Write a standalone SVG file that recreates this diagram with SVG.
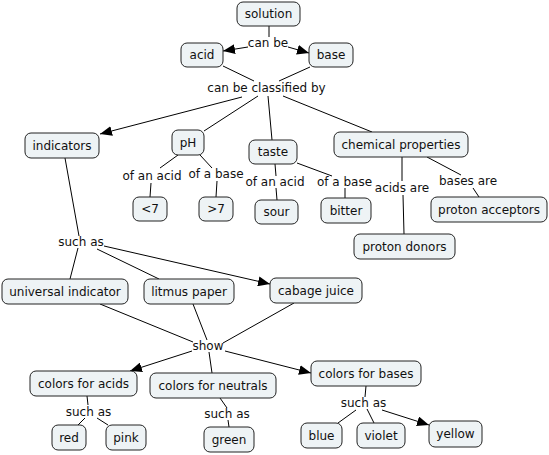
<svg xmlns="http://www.w3.org/2000/svg" width="549" height="455" viewBox="0 0 549 455">
<style>
.n rect{fill:#eef3f5;stroke:#222;stroke-width:1;}
text{font-family:"DejaVu Sans",Verdana,"Liberation Sans",sans-serif;font-size:12px;fill:#111;text-anchor:middle;}
#connectors line{stroke:#000;stroke-width:1;fill:none;}
#connectors line.a{marker-end:url(#arrow);}
</style>
<defs>
<marker id="arrow" markerUnits="userSpaceOnUse" markerWidth="13" markerHeight="10" refX="12" refY="5" orient="auto">
<path d="M0,0 L12,5 L0,10 z" fill="#000"/>
</marker>
</defs>
<rect width="549" height="455" fill="#fff"/>
<g id="connectors">
<line x1="269" y1="26" x2="269" y2="37"/>
<line class="a" x1="248" y1="47" x2="223" y2="51"/>
<line class="a" x1="288" y1="47" x2="309" y2="53"/>
<line x1="223" y1="66" x2="254" y2="81"/>
<line x1="310" y1="67" x2="279" y2="81"/>
<line class="a" x1="242" y1="97" x2="100" y2="134"/>
<line x1="258" y1="96" x2="204" y2="131"/>
<line x1="268" y1="96" x2="272" y2="140"/>
<line x1="283" y1="96" x2="372" y2="132"/>
<line x1="178" y1="155" x2="160" y2="168"/>
<line x1="151" y1="183" x2="150" y2="197"/>
<line x1="200" y1="155" x2="212" y2="168"/>
<line x1="217" y1="181" x2="216" y2="197"/>
<line x1="275" y1="164" x2="276" y2="176"/>
<line x1="276" y1="188" x2="277" y2="200"/>
<line x1="297" y1="163" x2="332" y2="176"/>
<line x1="345" y1="188" x2="345" y2="198"/>
<line x1="402" y1="157" x2="402" y2="181"/>
<line x1="403" y1="195" x2="404" y2="234"/>
<line x1="427" y1="157" x2="461" y2="175"/>
<line x1="473" y1="188" x2="479" y2="197"/>
<line x1="65" y1="158" x2="79" y2="236"/>
<line x1="78" y1="248" x2="70" y2="279"/>
<line x1="97" y1="249" x2="159" y2="279"/>
<line class="a" x1="104" y1="246" x2="270" y2="284"/>
<line x1="100" y1="304" x2="193" y2="342"/>
<line x1="193" y1="304" x2="207" y2="340"/>
<line x1="294" y1="303" x2="223" y2="343"/>
<line class="a" x1="192" y1="351" x2="130" y2="371"/>
<line x1="209" y1="352" x2="212" y2="373"/>
<line class="a" x1="225" y1="351" x2="311" y2="373"/>
<line x1="87" y1="396" x2="88" y2="405"/>
<line x1="85" y1="418" x2="78" y2="425"/>
<line x1="97" y1="418" x2="108" y2="425"/>
<line x1="220" y1="398" x2="227" y2="408"/>
<line x1="228" y1="420" x2="229" y2="427"/>
<line x1="366" y1="386" x2="365" y2="397"/>
<line x1="356" y1="410" x2="338" y2="423"/>
<line x1="367" y1="409" x2="374" y2="423"/>
<line class="a" x1="382" y1="410" x2="429" y2="425"/>
</g>
<g id="labels">
<text x="268" y="47">can be</text>
<text x="266.5" y="92">can be classified by</text>
<text x="152" y="180">of an acid</text>
<text x="216" y="178">of a base</text>
<text x="275" y="186">of an acid</text>
<text x="344.5" y="186">of a base</text>
<text x="402" y="192">acids are</text>
<text x="468" y="185">bases are</text>
<text x="81" y="246">such as</text>
<text x="208" y="350">show</text>
<text x="88.5" y="416">such as</text>
<text x="227" y="418">such as</text>
<text x="363.5" y="407">such as</text>
</g>
<g id="solution" class="n"><rect x="237" y="2" width="63" height="24" rx="6"/><text x="268.5" y="18">solution</text></g>
<g id="acid" class="n"><rect x="181" y="43" width="42" height="24" rx="6"/><text x="202" y="59">acid</text></g>
<g id="base" class="n"><rect x="309" y="43" width="44" height="24" rx="6"/><text x="331" y="59">base</text></g>
<g id="indicators" class="n"><rect x="25" y="133" width="74" height="25" rx="6"/><text x="62" y="150">indicators</text></g>
<g id="pH" class="n"><rect x="172" y="130" width="32" height="25" rx="6"/><text x="188" y="147">pH</text></g>
<g id="taste" class="n"><rect x="249" y="140" width="48" height="24" rx="6"/><text x="273" y="156">taste</text></g>
<g id="chemical-properties" class="n"><rect x="334" y="132" width="134" height="25" rx="6"/><text x="401" y="149">chemical properties</text></g>
<g id="lt7" class="n"><rect x="133" y="197" width="34" height="24" rx="6"/><text x="150" y="213">&lt;7</text></g>
<g id="gt7" class="n"><rect x="199" y="197" width="34" height="24" rx="6"/><text x="216" y="213">&gt;7</text></g>
<g id="sour" class="n"><rect x="255" y="200" width="43" height="24" rx="6"/><text x="276.5" y="216">sour</text></g>
<g id="bitter" class="n"><rect x="321" y="198" width="50" height="25" rx="6"/><text x="346" y="215">bitter</text></g>
<g id="proton-acceptors" class="n"><rect x="431" y="197" width="116" height="25" rx="6"/><text x="489" y="214">proton acceptors</text></g>
<g id="proton-donors" class="n"><rect x="354" y="234" width="101" height="25" rx="6"/><text x="404.5" y="251">proton donors</text></g>
<g id="universal-indicator" class="n"><rect x="2" y="279" width="126" height="25" rx="6"/><text x="65" y="296">universal indicator</text></g>
<g id="litmus-paper" class="n"><rect x="144" y="279" width="90" height="25" rx="6"/><text x="189" y="296">litmus paper</text></g>
<g id="cabage-juice" class="n"><rect x="270" y="278" width="92" height="25" rx="6"/><text x="316" y="295">cabage juice</text></g>
<g id="colors-for-acids" class="n"><rect x="30" y="371" width="107" height="25" rx="6"/><text x="83.5" y="388">colors for acids</text></g>
<g id="colors-for-neutrals" class="n"><rect x="150" y="373" width="126" height="25" rx="6"/><text x="213" y="390">colors for neutrals</text></g>
<g id="colors-for-bases" class="n"><rect x="311" y="361" width="110" height="25" rx="6"/><text x="366" y="378">colors for bases</text></g>
<g id="red" class="n"><rect x="52" y="425" width="34" height="25" rx="6"/><text x="69" y="442">red</text></g>
<g id="pink" class="n"><rect x="106" y="425" width="40" height="25" rx="6"/><text x="126" y="442">pink</text></g>
<g id="green" class="n"><rect x="204" y="427" width="50" height="25" rx="6"/><text x="229" y="444">green</text></g>
<g id="blue" class="n"><rect x="301" y="423" width="41" height="25" rx="6"/><text x="321.5" y="440">blue</text></g>
<g id="violet" class="n"><rect x="357" y="423" width="48" height="25" rx="6"/><text x="381" y="440">violet</text></g>
<g id="yellow" class="n"><rect x="429" y="421" width="53" height="26" rx="6"/><text x="455.5" y="438">yellow</text></g>
</svg>
